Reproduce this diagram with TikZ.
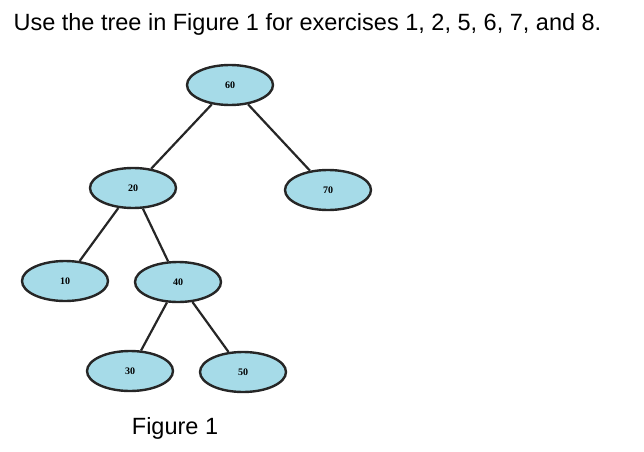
\documentclass[tikz,border=0pt]{standalone}
\usepackage{fontspec}
\usetikzlibrary{shapes.geometric}
\setmainfont{Liberation Serif}
\newfontfamily\sansf{Liberation Sans}
\definecolor{nodeblue}{RGB}{166,219,232}
\begin{document}
\begin{tikzpicture}[x=1pt,y=1pt,
  tn/.style={ellipse,draw=black!85,line width=2.4pt,fill=nodeblue,minimum width=86pt,minimum height=40pt,inner sep=0pt,font=\fontsize{10}{11}\selectfont\bfseries},
  edge/.style={line width=2.2pt,draw=black!85}]
\useasboundingbox (0,0) rectangle (644,451);
\node[anchor=west,font=\sansf\fontsize{23.5}{26}\selectfont] (title) at (10,427) {Use the tree in Figure 1 for exercises 1, 2, 5, 6, 7, and 8.};
\node[tn] (n60) at (230,366) {60};
\node[tn] (n20) at (133,263) {20};
\node[tn] (n70) at (328,261) {70};
\node[tn] (n10) at (65,170) {10};
\node[tn] (n40) at (178,169) {40};
\node[tn] (n30) at (130,80) {30};
\node[tn] (n50) at (243,79) {50};
\node[font=\sansf\fontsize{23.5}{26}\selectfont] (cap) at (175,23) {Figure 1};
\draw[edge] (n60) -- (n20);
\draw[edge] (n60) -- (n70);
\draw[edge] (n20) -- (n10);
\draw[edge] (n20) -- (n40);
\draw[edge] (n40) -- (n30);
\draw[edge] (n40) -- (n50);
\end{tikzpicture}
\end{document}
